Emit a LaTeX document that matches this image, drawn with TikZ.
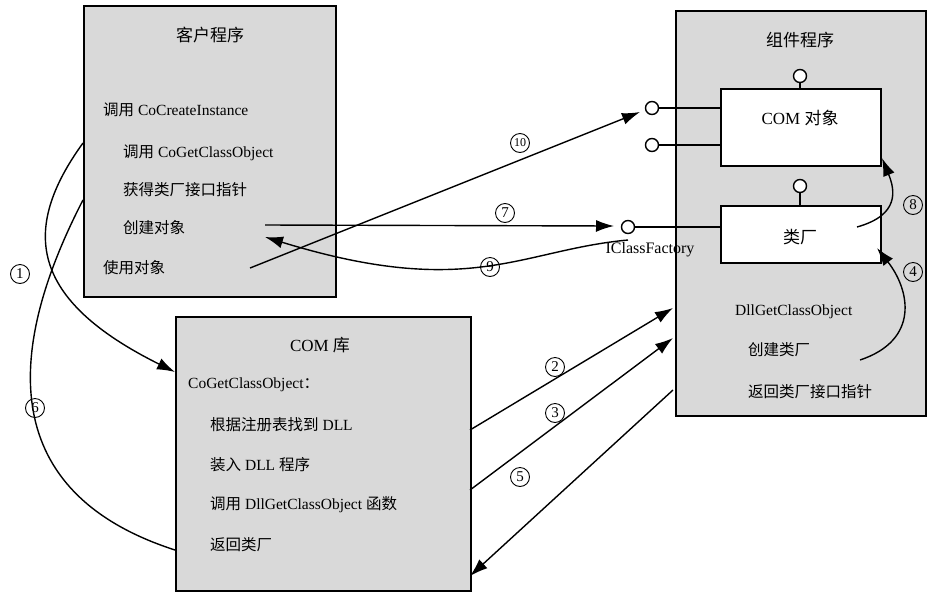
\documentclass[tikz,border=0pt]{standalone}
\usepackage{fontspec}
\setmainfont{Liberation Serif}
\newfontfamily\cjk{Noto Sans CJK SC}
\newcommand{\zh}[1]{{\cjk #1}}
\usetikzlibrary{arrows.meta}
\begin{document}
\begin{tikzpicture}[x=1pt,y=-1pt,
  panel/.style={draw,line width=1.6pt,fill=black!15},
  inner/.style={draw,line width=1.6pt,fill=white},
  txt/.style={anchor=west,font=\fontsize{15.5}{17}\selectfont,inner sep=0pt},
  ttl/.style={font=\fontsize{17}{19}\selectfont,inner sep=0pt},
  lol/.style={draw,circle,fill=white,minimum size=13pt,inner sep=0pt,line width=1.4pt},
  arr/.style={line width=1.4pt,-{Latex[length=18pt,width=12pt]}},
  ln/.style={line width=1.4pt},
  num/.style={draw,circle,inner sep=0.5pt,line width=0.9pt,minimum size=19pt,font=\fontsize{15}{15}\selectfont,fill=none}]
\useasboundingbox (0,0) rectangle (934,595);
% panels
\node[panel,minimum width=252pt,minimum height=291pt,anchor=north west,inner sep=0] (cli) at (83,5) {};
\node[panel,minimum width=250pt,minimum height=405pt,anchor=north west,inner sep=0] (cmp) at (675,10) {};
\node[panel,minimum width=295pt,minimum height=274pt,anchor=north west,inner sep=0] (lib) at (175,316) {};
% client texts
\node[ttl] (t1) at (210,35) {\zh{客户程序}};
\node[txt] (c1) at (103,110) {\zh{调用} CoCreateInstance};
\node[txt] (c2) at (123,153) {\zh{调用} CoGetClassObject};
\node[txt] (c3) at (123,190) {\zh{获得类厂接口指针}};
\node[txt] (c4) at (123,228) {\zh{创建对象}};
\node[txt] (c5) at (103,268) {\zh{使用对象}};
% component
\node[ttl] (t2) at (800,40) {\zh{组件程序}};
\node[inner,minimum width=160pt,minimum height=77pt,anchor=north west,inner sep=0] (obj) at (720,88) {};
\node[ttl] (objt) at (800,118) {COM \zh{对象}};
\node[inner,minimum width=160pt,minimum height=57pt,anchor=north west,inner sep=0] (cf) at (720,205) {};
\node[ttl] (cft) at (800,237) {\zh{类厂}};
\node[lol] (l1) at (800,76) {};
\node[lol] (l2) at (652,108) {};
\node[lol] (l3) at (652,145) {};
\node[lol] (l4) at (800,186) {};
\node[lol] (l5) at (628,227) {};
\draw[ln] (l1) -- (800,88);
\draw[ln] (l2) -- (720,108);
\draw[ln] (l3) -- (720,145);
\draw[ln] (l4) -- (800,205);
\draw[ln] (l5) -- (720,227);
\node[font=\fontsize{16}{16}\selectfont,inner sep=0] (icf) at (650,250) {IClassFactory};
\node[txt] (d1) at (735,312) {DllGetClassObject};
\node[txt] (d2) at (748,350) {\zh{创建类厂}};
\node[txt] (d3) at (748,392) {\zh{返回类厂接口指针}};
% lib
\node[ttl] (t3) at (320,345) {COM \zh{库}};
\node[txt] (b1) at (188,385) {CoGetClassObject\zh{：}};
\node[txt] (b2) at (210,425) {\zh{根据注册表找到} DLL};
\node[txt] (b3) at (210,465) {\zh{装入} DLL \zh{程序}};
\node[txt] (b4) at (210,505) {\zh{调用} DllGetClassObject \zh{函数}};
\node[txt] (b5) at (210,545) {\zh{返回类厂}};
% connector endpoints
\coordinate (p1s) at (83,143);
\coordinate (p1e) at (175,372);
\coordinate (p6s) at (175,550);
\coordinate (p6e) at (83,200);
\coordinate (a7s) at (265,225);
\coordinate (a7e) at (614,226);
\coordinate (a9s) at (628,240);
\coordinate (a9e) at (265,237);
\coordinate (a10s) at (250,268);
\coordinate (a10e) at (640,112);
\coordinate (a2s) at (470,430);
\coordinate (a2e) at (673,308);
\coordinate (a3s) at (470,490);
\coordinate (a3e) at (673,338);
\coordinate (a5s) at (673,390);
\coordinate (a5e) at (470,576);
\coordinate (a4s) at (860,360);
\coordinate (a4e) at (877,248);
\coordinate (a8s) at (857,227);
\coordinate (a8e) at (882,158);
% connectors
\draw[arr] (p1s) .. controls (20,230) and (30,300) .. (p1e);
\draw[ln] (p6s) .. controls (20,500) and (-10,380) .. (p6e);
\draw[arr] (a7s) -- (a7e);
\draw[arr] (a9s) .. controls (520,250) and (470,300) .. (a9e);
\draw[arr] (a10s) -- (a10e);
\draw[arr] (a2s) -- (a2e);
\draw[arr] (a3s) -- (a3e);
\draw[arr] (a5s) -- (a5e);
\draw[arr] (a4s) .. controls (920,340) and (910,290) .. (a4e);
\draw[arr] (a8s) .. controls (900,215) and (895,190) .. (a8e);
% numbers
\node[num] (n1) at (20,274) {1};
\node[num] (n6) at (35,408) {6};
\node[num] (n7) at (505,213) {7};
\node[num] (n9) at (490,267) {9};
\node[num,font=\fontsize{12}{12}\selectfont] (n10) at (520,143) {10};
\node[num] (n2) at (555,367) {2};
\node[num] (n3) at (555,413) {3};
\node[num] (n5) at (520,477) {5};
\node[num] (n4) at (913,272) {4};
\node[num] (n8) at (913,205) {8};
\end{tikzpicture}
\end{document}
